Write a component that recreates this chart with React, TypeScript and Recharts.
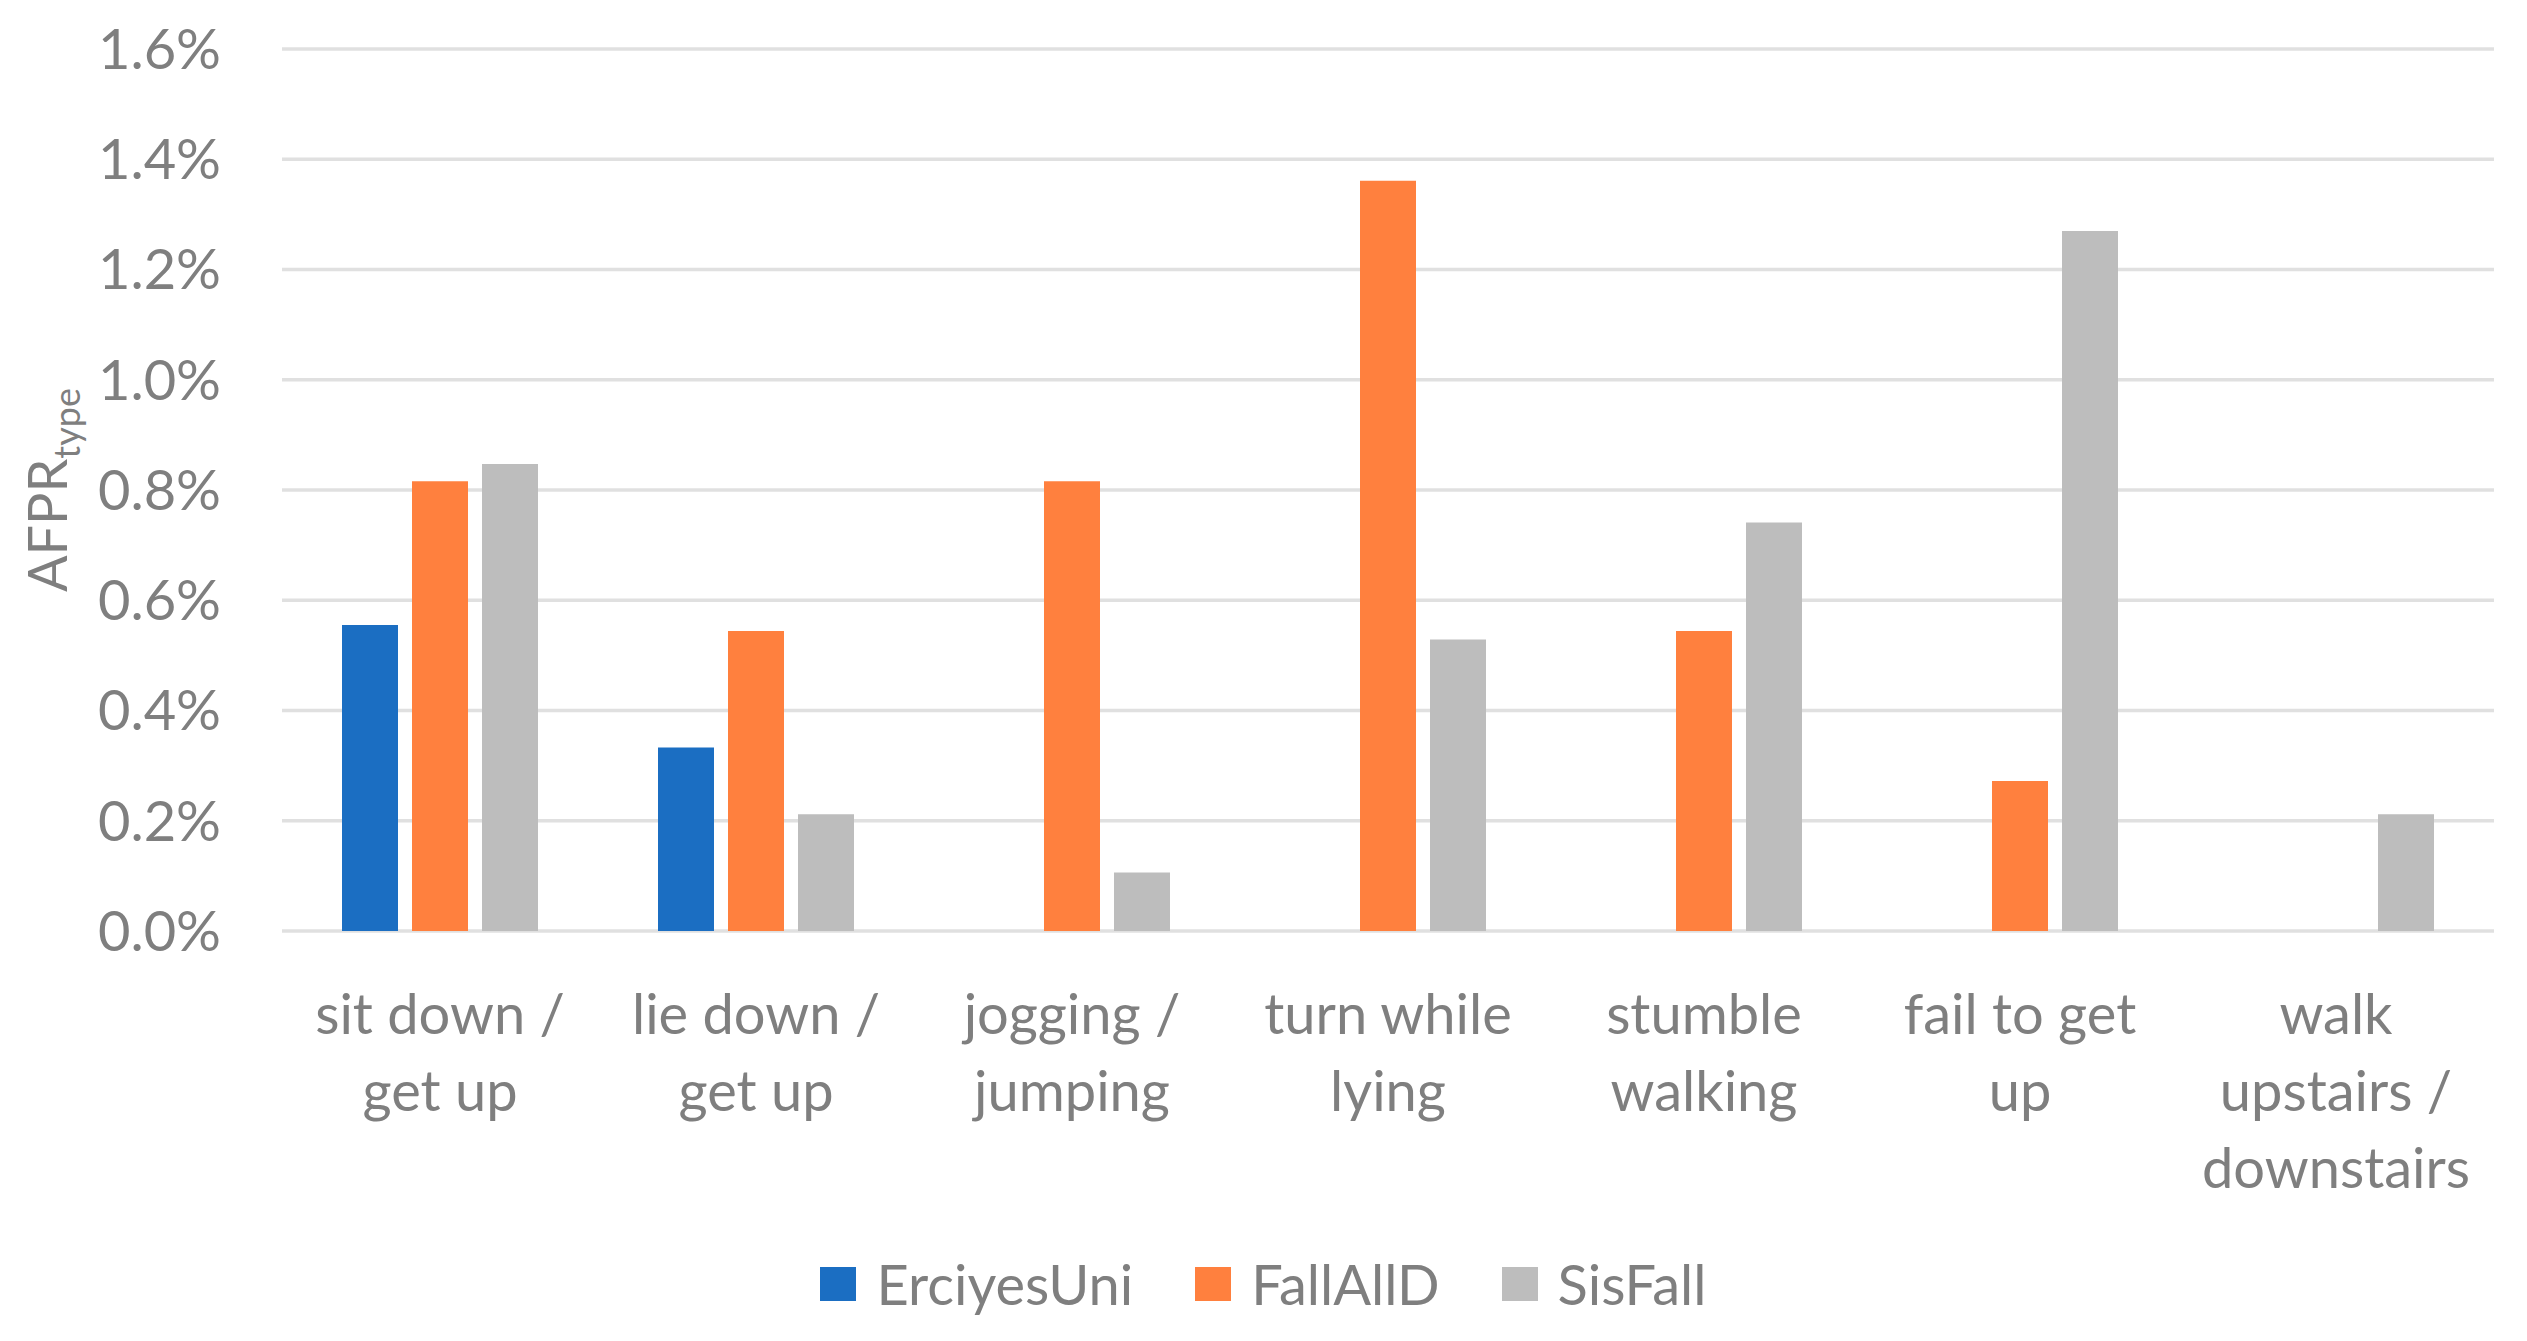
import React from 'react'
import { BarChart, Bar, XAxis, YAxis, CartesianGrid, Legend } from 'recharts'

// category labels, line breaks where the original wraps them
const categories = [
  'sit down /\nget up',
  'lie down /\nget up',
  'jogging /\njumping',
  'turn while\nlying',
  'stumble\nwalking',
  'fail to get\nup',
  'walk\nupstairs /\ndownstairs'
]

// AFPR per activity type, in percent
const erciyesUni = [0.555, 0.333, 0, 0, 0, 0, 0]
const fallAllD = [0.816, 0.544, 0.816, 1.361, 0.544, 0.272, 0]
const sisFall = [0.847, 0.212, 0.106, 0.529, 0.741, 1.27, 0.212]

const yTicks = [0, 0.2, 0.4, 0.6, 0.8, 1.0, 1.2, 1.4, 1.6]

const FONT = 'Lato, "Open Sans", sans-serif'
const TEXT = '#7f7f7f'

const chartData = categories.map((name, i) => ({
  name,
  ErciyesUni: erciyesUni[i],
  FallAllD: fallAllD[i],
  SisFall: sisFall[i]
}))

const CategoryTick = (props: any) => {
  const { x, y, payload } = props
  const lines = String(payload.value).split('\n')
  return (
    <text x={x} y={y} textAnchor="middle" fill={TEXT} fontSize={56} fontFamily={FONT}>
      {lines.map((line, i) => (
        <tspan key={i} x={x} y={y + 103 + i * 77}>
          {line}
        </tspan>
      ))}
    </text>
  )
}

const AxisTitle = () => (
  <text
    x={67}
    y={490}
    transform="rotate(-90, 67, 490)"
    textAnchor="middle"
    fill={TEXT}
    fontSize={54}
    fontFamily={FONT}
  >
    AFPR
    <tspan fontSize={36} dy={13}>
      type
    </tspan>
  </text>
)

const LegendContent = (props: any) => {
  const { payload } = props
  return (
    <div
      style={{
        height: 100,
        display: 'flex',
        justifyContent: 'center',
        alignItems: 'center',
        fontFamily: FONT,
        fontSize: 56,
        color: TEXT
      }}
    >
      {(payload || []).map((entry: any) => (
        <div
          key={entry.value}
          style={{ display: 'flex', alignItems: 'center', margin: '0 31px' }}
        >
          <div
            style={{
              width: 36,
              height: 34,
              background: entry.color,
              marginRight: 20
            }}
          />
          <span style={{ lineHeight: '60px' }}>{entry.value}</span>
        </div>
      ))}
    </div>
  )
}

const App: React.FC = () => {
  return (
    <div style={{ position: 'absolute', left: 0, top: 0, background: '#fff' }}>
      <BarChart
        width={2527}
        height={1341}
        data={chartData}
        margin={{ top: 49, right: 33, bottom: 0, left: 0 }}
        barCategoryGap={60}
        barGap={14}
      >
        <CartesianGrid vertical={false} stroke="#e0e0e0" strokeWidth={3.5} />
        <XAxis
          dataKey="name"
          axisLine={false}
          tickLine={false}
          tickSize={0}
          tickMargin={0}
          height={310}
          interval={0}
          tick={<CategoryTick />}
        />
        <YAxis
          width={282}
          domain={[0, 1.6]}
          ticks={yTicks}
          axisLine={false}
          tickLine={false}
          tickSize={0}
          tickMargin={61}
          tickFormatter={(v: number) => v.toFixed(1) + '%'}
          tick={{ fill: TEXT, fontSize: 56, fontFamily: FONT }}
          label={<AxisTitle />}
        />
        <Legend
          verticalAlign="bottom"
          content={<LegendContent />}
          wrapperStyle={{ top: 1234, left: 0, width: 2527 }}
        />
        <Bar dataKey="ErciyesUni" fill="#1b6ec2" isAnimationActive={false} />
        <Bar dataKey="FallAllD" fill="#ff803e" isAnimationActive={false} />
        <Bar dataKey="SisFall" fill="#bdbdbd" isAnimationActive={false} />
      </BarChart>
    </div>
  )
}

export default App
